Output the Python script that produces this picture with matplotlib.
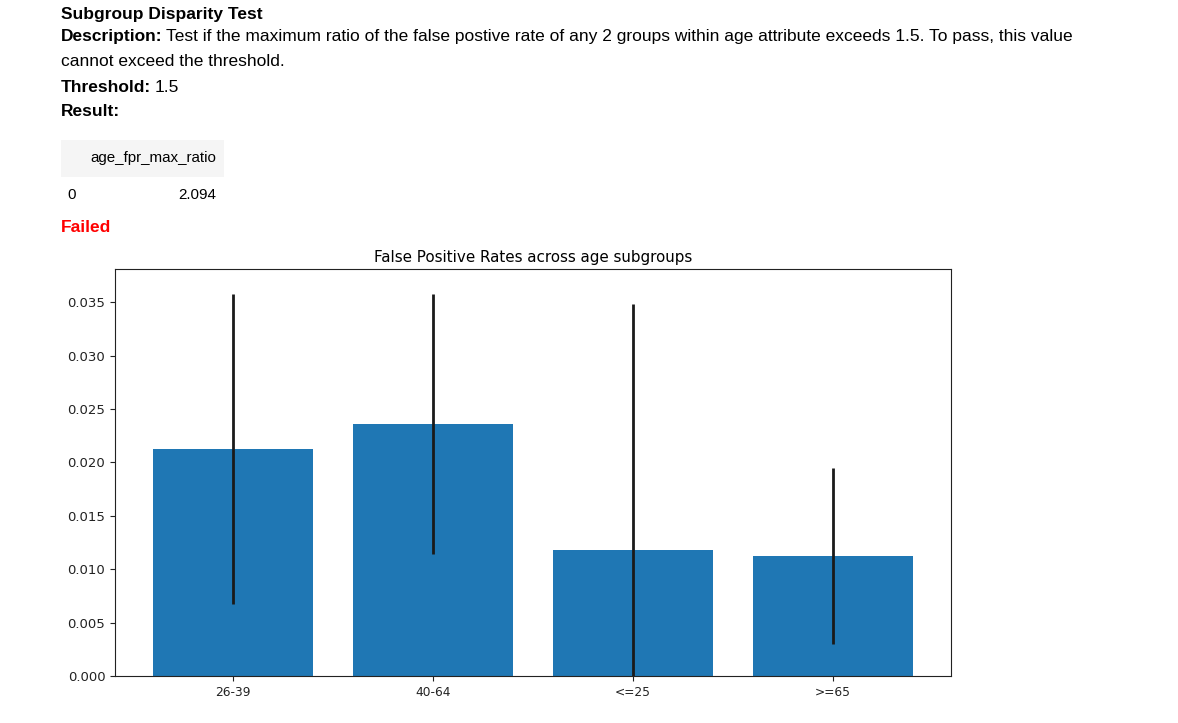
import matplotlib
matplotlib.use("Agg")
import matplotlib.pyplot as plt
from matplotlib.patches import Rectangle

categories = ["26-39", "40-64", "<=25", ">=65"]
fpr_values = [0.02124, 0.02358, 0.01179, 0.01123]
fpr_errors = [0.01451, 0.01217, 0.02302, 0.00820]

title_text = "Subgroup Disparity Test"
desc_label = "Description:"
desc_line1 = "Test if the maximum ratio of the false postive rate of any 2 groups within age attribute exceeds 1.5. To pass, this value"
desc_line2 = "cannot exceed the threshold."
threshold_label = "Threshold:"
threshold_value = "1.5"
result_label = "Result:"
table_header = "age_fpr_max_ratio"
table_index = "0"
table_value = "2.094"
status_text = "Failed"
chart_title = "False Positive Rates across age subgroups"

W, H = 1178, 723
fig = plt.figure(figsize=(W / 100, H / 100), dpi=100)
fig.patch.set_facecolor("white")

def fx(px):
    return px / W

def fy(py):
    return 1 - py / H

hfont = ["Liberation Sans", "DejaVu Sans"]
fs = 12.5

fig.text(fx(61), fy(15), title_text, fontsize=fs, fontweight="bold", family=hfont, va="center")
t = fig.text(fx(61), fy(37), desc_label, fontsize=fs, fontweight="bold", family=hfont, va="center")
fig.canvas.draw()
r = fig.canvas.get_renderer()
bb = t.get_window_extent(r)
fig.text((bb.x1 + 4) / W, fy(37), desc_line1, fontsize=fs, family=hfont, va="center")
fig.text(fx(61), fy(62), desc_line2, fontsize=fs, family=hfont, va="center")
t2 = fig.text(fx(61), fy(87), threshold_label, fontsize=fs, fontweight="bold", family=hfont, va="center")
bb2 = t2.get_window_extent(r)
fig.text((bb2.x1 + 4) / W, fy(87), threshold_value, fontsize=fs, family=hfont, va="center")
fig.text(fx(61), fy(112), result_label, fontsize=fs, fontweight="bold", family=hfont, va="center")

# table
fig.patches.append(Rectangle((fx(61), fy(177)), fx(224) - fx(61), fy(140) - fy(177),
                             transform=fig.transFigure, facecolor="#f5f5f5", edgecolor="none"))
fig.text(fx(216), fy(158), table_header, fontsize=10.9, family=hfont, va="center", ha="right")
fig.text(fx(67), fy(195), table_index, fontsize=10.9, family=hfont, va="center", ha="left")
fig.text(fx(216), fy(195), table_value, fontsize=10.9, family=hfont, va="center", ha="right")
fig.text(fx(61), fy(227), status_text, fontsize=fs, fontweight="bold", family=hfont, va="center", color="red")

# chart
ax = fig.add_axes([fx(115), fy(676), fx(951) - fx(115), fy(269) - fy(676)])
x = list(range(len(categories)))
ax.bar(x, fpr_values, width=0.8, color="#1f77b4", yerr=fpr_errors,
       error_kw=dict(ecolor="#1a1a1a", elinewidth=2, capsize=0))
ax.set_xticks(x)
ax.set_xticklabels(categories)
ax.set_xlim(-0.59, 3.59)
ax.set_ylim(0, 0.0381)
ax.set_yticks([0.0, 0.005, 0.01, 0.015, 0.02, 0.025, 0.03, 0.035])
ax.set_yticklabels(["0.000", "0.005", "0.010", "0.015", "0.020", "0.025", "0.030", "0.035"])
ax.tick_params(axis="y", labelsize=9.5, colors="#222222")
ax.tick_params(axis="x", labelsize=8.8, colors="#222222")
for s in ax.spines.values():
    s.set_color("#222222")
ax.set_title(chart_title, fontsize=10.9, pad=5)

fig.savefig("out.png", dpi=100)
